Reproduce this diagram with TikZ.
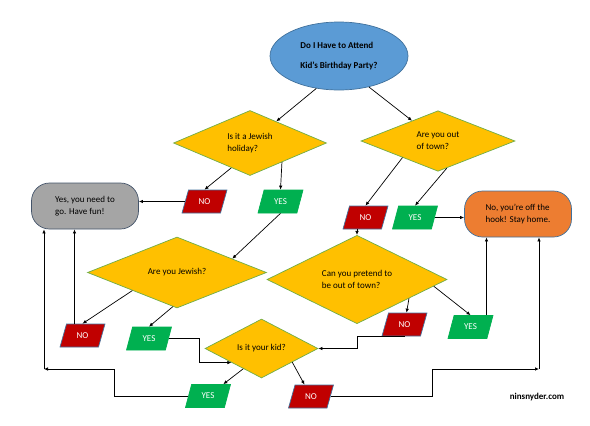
\documentclass[tikz,border=0pt]{standalone}
\usepackage{fontspec}
\setmainfont{Carlito}
\usetikzlibrary{arrows.meta,shapes.geometric}
\definecolor{qfill}{HTML}{FFC000}
\definecolor{qline}{HTML}{70AD47}
\definecolor{blfill}{HTML}{5B9BD5}
\definecolor{blline}{HTML}{41719C}
\definecolor{nofill}{HTML}{C00000}
\definecolor{yesfill}{HTML}{00B050}
\definecolor{gyfill}{HTML}{A5A5A5}
\definecolor{gyline}{HTML}{44546A}
\definecolor{orfill}{HTML}{ED7D31}
\tikzset{
    every node/.style={font=\fontsize{9}{12}\selectfont},
    quest/.style={diamond, draw=qline, fill=qfill, line width=.7pt, inner sep=0, align=left},
    pgram/.style={trapezium, trapezium left angle=68, trapezium right angle=112,
        trapezium stretches=true, minimum width=45pt, minimum height=23pt, inner sep=0,
        text=white, line width=.7pt},
    nobox/.style={pgram, fill=nofill, draw=blline},
    yesbox/.style={pgram, fill=yesfill, draw=yesfill},
    endbox/.style={rectangle, rounded corners=18pt, minimum width=107pt, minimum height=46pt,
        line width=.7pt, align=left},
    arr/.style={-{Latex[length=4pt,width=3.5pt]}, line width=.7pt},
}

\begin{document}
\begin{tikzpicture}[x=1pt, y=-1pt]
    \useasboundingbox (0,0) rectangle (590,426);

    \node[ellipse, draw=blline, fill=blfill, line width=.7pt, minimum width=138pt, minimum height=68pt,
        inner sep=0, align=left, font=\fontsize{9}{10}\selectfont\bfseries] (start) at (339,56)
        {Do I Have to Attend\\[10pt]Kid's Birthday Party?};

    \node[quest, minimum width=153pt, minimum height=60pt] (hol) at (250,143) {Is it a Jewish\\holiday?};
    \node[quest, minimum width=154pt, minimum height=58pt] (town) at (438,141) {Are you out\\of town?};
    \node[quest, minimum width=179pt, minimum height=71pt] (jew) at (177,272.5) {Are you Jewish?};
    \node[quest, minimum width=180pt, minimum height=71pt] (can) at (357,279.5) {Can you pretend to\\be out of town?};
    \node[quest, minimum width=113pt, minimum height=59pt] (kid) at (261.5,348.5) {Is it your kid?};

    \node[endbox, fill=gyfill, draw=gyline] (go) at (85,206) {Yes, you need to\\go. Have fun!};
    \node[endbox, fill=orfill, draw=blline] (hook) at (518,214) {No, you're off the\\hook! Stay home.};

    \node[nobox] (no1) at (204.5,201.5) {NO};
    \node[yesbox] (yes1) at (280.5,201.5) {YES};
    \node[nobox] (no2) at (365.5,217.5) {NO};
    \node[yesbox] (yes2) at (415,217.5) {YES};
    \node[nobox] (no3) at (404.5,324.5) {NO};
    \node[yesbox] (yes3) at (470.5,327) {YES};
    \node[nobox] (no4) at (82.5,335.5) {NO};
    \node[yesbox] (yes4) at (149,338.5) {YES};
    \node[yesbox] (yes5) at (208,396) {YES};
    \node[nobox] (no5) at (311,396.5) {NO};

    \node[font=\fontsize{9}{10}\selectfont\bfseries] (site) at (537,397) {ninsnyder.com};

    \coordinate (jl) at (44,369);
    \coordinate (jr) at (539,369);

    \draw[arr] (start.-125) -- (hol);
    \draw[arr] (start.-46) -- (town);
    \draw[arr] (hol.-127) -- (no1.north);
    \draw[arr] (hol.-31) -- (yes1.north);
    \draw[arr] (no1.west) -- (go.east |- no1.west);
    \draw[arr] (yes1.south) -- (jew.14);
    \draw[arr] (town.-155) -- (no2.north);
    \draw[arr] (town.-72) -- (yes2.north);
    \draw[arr] (yes2.east) -- (hook.west |- yes2.east);
    \draw[arr] (can.north |- no2.south) -- (can.north);
    \draw[arr] (can.-20) -- (no3);
    \draw[arr] (can.-5) -- (yes3.north);
    \draw[arr] ([xshift=16pt]yes3.north) -- ([xshift=16pt]yes3.north |- hook.south);
    \draw[arr] (no3.south) -- ++(-47,0) |- (kid.east);
    \draw[arr] (jew.-158) -- (no4.north);
    \draw[arr] (jew.-97) -- (yes4.north);
    \draw[arr] ([xshift=-8pt]no4.north) -- ([xshift=-8pt]no4.north |- go.south);
    \draw[arr] (yes4.east) -- ++(31,0) |- (kid.-155);
    \draw[arr] (kid.-132) -- (yes5);
    \draw[arr] (kid.-24) -- (no5);
    \draw[arr] (no5.east) -- ++(102,0) |- (jr);
    \draw[arr] (jr) -- (jr |- hook.south);
    \draw[arr] (yes5.west) -- ++(-74,0) |- (jl);
    \draw[arr] (jl) -- (jl |- go.south);
\end{tikzpicture}
\end{document}
